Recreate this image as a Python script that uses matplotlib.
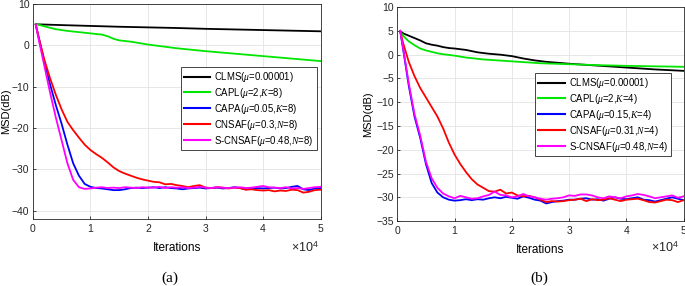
import numpy as np
import matplotlib
matplotlib.use("Agg")
import matplotlib.pyplot as plt
from matplotlib.ticker import FuncFormatter

plt.rcParams['font.family'] = ['Liberation Sans', 'DejaVu Sans']
plt.rcParams['mathtext.fontset'] = 'custom'
plt.rcParams['mathtext.it'] = 'Liberation Serif:italic'
plt.rcParams['mathtext.rm'] = 'Liberation Sans'

# shared iteration grid for the adaptive curves
x_iter = [500] + list(range(1000, 50001, 1000))

# ---------- panel (a) ----------
a_clms_x = [500, 5000, 10000, 15000, 20000, 25000, 30000, 35000, 40000, 45000, 50000]
a_clms = [5.1, 4.9, 4.7, 4.5, 4.35, 4.2, 4.0, 3.85, 3.7, 3.55, 3.4]

a_capl_x = [500, 2000, 4000, 6000, 8000, 10000, 12000, 13000, 14000, 15000, 17000,
            20000, 25000, 30000, 35000, 40000, 45000, 50000]
a_capl = [5.2, 4.6, 3.9, 3.5, 3.2, 2.9, 2.6, 2.2, 1.6, 1.2, 0.9,
          0.2, -0.7, -1.4, -2.0, -2.6, -3.2, -3.8]

a_capa = [5, 2, -4, -9.5, -14.5, -19, -24, -28.5, -31.5, -33.5, -34.2,
          -34.5, -34.6, -34.8, -35.0, -35.0, -34.8, -34.5, -34.4, -34.5, -34.4,
          -34.3, -34.5, -34.3, -34.5, -34.6, -34.8, -34.6, -34.5, -34.4, -34.6,
          -34.5, -34.4, -34.6, -34.5, -34.3, -34.5, -34.8, -34.7, -34.5, -34.6,
          -34.5, -34.4, -34.6, -34.5, -34.2, -34.0, -34.8, -35.0, -34.6, -34.5]

a_cnsaf = [5, 2, -3.5, -8, -12, -15.5, -18.5, -20.5, -22.3, -24, -25.3,
           -26.3, -27.2, -28.3, -29.5, -30.4, -31.0, -31.5, -32, -32.4, -32.7,
           -33.0, -33.1, -33.6, -33.5, -33.8, -34.0, -34.3, -34.0, -33.8, -34.4,
           -34.5, -34.3, -34.4, -34.6, -34.4, -34.5, -34.9, -34.8, -35.0, -35.1,
           -35.0, -35.3, -35.1, -35.2, -34.9, -35.0, -35.6, -35.4, -35.0, -34.9]

a_scnsaf = [5, 1.5, -5, -11.5, -17.5, -23, -28.5, -32.5, -34.3, -34.7, -34.6,
            -34.4, -34.3, -34.5, -34.4, -34.5, -34.3, -34.4, -34.5, -34.3, -34.4,
            -34.4, -34.2, -34.5, -34.3, -34.4, -34.3, -34.5, -34.4, -34.2, -34.4,
            -34.5, -34.3, -34.4, -34.5, -34.4, -34.3, -34.5, -34.4, -34.2, -34.0,
            -34.3, -34.4, -34.5, -34.3, -34.6, -34.5, -34.7, -34.5, -34.3, -34.2]

a_labels = ['CLMS($\\mu$=0.00001)', 'CAPL($\\mu$=2,$K$=8)', 'CAPA($\\mu$=0.05,$K$=8)',
            'CNSAF($\\mu$=0.3,$N$=8)', 'S-CNSAF($\\mu$=0.48,$N$=8)']

# ---------- panel (b) ----------
b_clms_x = [500, 1000, 2000, 3000, 4000, 5000, 6000, 7000, 8000, 9000, 10000, 12000,
            14000, 16000, 18000, 20000, 22000, 24000, 26000, 28000, 30000, 35000,
            40000, 45000, 50000]
b_clms = [5, 4.5, 4, 3.5, 3, 2.4, 2.1, 1.9, 1.6, 1.4, 1.3, 1.0,
          0.5, 0.2, 0, -0.3, -0.8, -1.2, -1.5, -1.7, -1.9, -2.3,
          -2.7, -3.1, -3.4]

b_capl_x = [500, 1000, 2000, 3000, 4000, 5000, 6000, 7000, 8000, 10000, 12000, 15000,
            20000, 25000, 30000, 35000, 40000, 45000, 50000]
b_capl = [5, 4, 2.8, 2.0, 1.3, 0.9, 0.6, 0.3, 0.1, -0.2, -0.6, -1.0,
          -1.4, -1.8, -2.0, -2.2, -2.35, -2.45, -2.55]

b_capa = [5, 1.3, -6.5, -13, -17.5, -23, -27, -29, -30, -30.5, -30.7,
          -30.6, -30.4, -30.6, -30.4, -30.5, -30.2, -30.0, -30.2, -29.9, -30.1,
          -30.3, -29.8, -30.1, -30.5, -30.7, -31.3, -31.0, -30.8, -30.7, -30.5,
          -30.5, -30.3, -30.2, -30.5, -30.4, -30.7, -30.3, -30.0, -30.3, -30.4,
          -30.2, -30.0, -30.5, -30.6, -30.9, -30.6, -30.3, -30.0, -30.3, -30.6]

b_cnsaf = [5, 2.5, -1.5, -4.5, -7, -9, -11, -13, -15.5, -18.5, -21,
           -23, -24.7, -26.2, -27.3, -28.0, -28.7, -28.8, -28.4, -29.2, -29.0,
           -29.6, -29.8, -29.7, -30.0, -30.5, -31.0, -30.8, -30.9, -30.8, -30.6,
           -30.5, -30.3, -30.8, -30.4, -30.6, -30.5, -30.2, -30.5, -30.8, -30.5,
           -30.4, -30.3, -30.6, -31.0, -31.1, -30.8, -30.5, -30.6, -31.0, -30.6]

b_scnsaf = [5, 1.5, -6, -12.5, -17, -22.5, -26, -28, -29.2, -29.8, -30.2,
            -29.7, -30.0, -30.3, -30.2, -29.8, -29.5, -28.8, -29.5, -29.6, -30.0,
            -29.8, -29.3, -29.8, -30.0, -30.3, -30.5, -30.3, -30.2, -30.0, -29.6,
            -29.7, -29.4, -29.4, -29.6, -30.0, -30.2, -29.8, -30.0, -30.2, -29.8,
            -29.6, -29.3, -29.5, -29.8, -30.2, -30.0, -29.8, -29.6, -30.1, -29.8]

b_labels = ['CLMS($\\mu$=0.00001)', 'CAPL($\\mu$=2,$K$=4)', 'CAPA($\\mu$=0.15,$K$=4)',
            'CNSAF($\\mu$=0.31,$N$=4)', 'S-CNSAF($\\mu$=0.48,$N$=4)']

colors = ['black', '#00e600', 'blue', 'red', 'magenta']


def draw_panel(ax, series, labels, ylim, yticks, leg_anchor, ylab_x, exp_pos):
    for (xs, ys), lab, c in zip(series, labels, colors):
        ax.plot(xs, ys, color=c, lw=1.3, label=lab)
    ax.set_xlim(0, 50000)
    ax.set_ylim(*ylim)
    ax.set_yticks(yticks)
    ax.set_xticks(range(0, 50001, 10000))
    ax.xaxis.set_major_formatter(FuncFormatter(lambda v, p: '%d' % round(v / 1e4)))
    ax.text(exp_pos[0], exp_pos[1], '×10$^4$', transform=ax.transAxes, ha='right',
            va='center', fontsize=9, color='#262626')
    ax.grid(True, color='#e3e3e3', lw=0.6)
    ax.tick_params(direction='in', length=2.5, labelsize=7.5, colors='#262626', width=0.6)
    ax.tick_params(axis='y', pad=2.5)
    for sp in ax.spines.values():
        sp.set_color('#262626')
        sp.set_linewidth(0.6)
    ax.set_xlabel('Iterations', fontsize=8.5, labelpad=5.5)
    ax.set_ylabel('MSD(dB)', fontsize=8)
    ax.yaxis.set_label_coords(ylab_x, 0.5)
    leg = ax.legend(loc='upper right', bbox_to_anchor=leg_anchor, fontsize=6.9,
                    handlelength=2.8, labelspacing=0.2, borderpad=0.3,
                    handletextpad=0.4, fancybox=False, framealpha=1,
                    edgecolor='#262626', borderaxespad=0)
    leg.get_frame().set_linewidth(0.6)
    for ln in leg.get_lines():
        ln.set_linewidth(1.5)


fig = plt.figure(figsize=(6.85, 2.86), dpi=100)
ax_a = fig.add_axes([0.048, 0.234, 0.420, 0.752])
ax_b = fig.add_axes([0.580, 0.227, 0.418, 0.748])

draw_panel(ax_a,
           [(a_clms_x, a_clms), (a_capl_x, a_capl), (x_iter, a_capa),
            (x_iter, a_cnsaf), (x_iter, a_scnsaf)],
           a_labels, (-42, 10), [-40, -30, -20, -10, 0, 10], (0.986, 0.707),
           -0.074, (0.995, -0.135))
draw_panel(ax_b,
           [(b_clms_x, b_clms), (b_capl_x, b_capl), (x_iter, b_capa),
            (x_iter, b_cnsaf), (x_iter, b_scnsaf)],
           b_labels, (-35, 10), list(range(-35, 11, 5)), (0.955, 0.692),
           -0.085, (0.983, -0.126))

fig.text(0.248, 0.028, '(a)', fontsize=11, family='Liberation Serif', ha='center', va='center')
fig.text(0.788, 0.028, '(b)', fontsize=11, family='Liberation Serif', ha='center', va='center')

fig.savefig('out.png', dpi=100)
